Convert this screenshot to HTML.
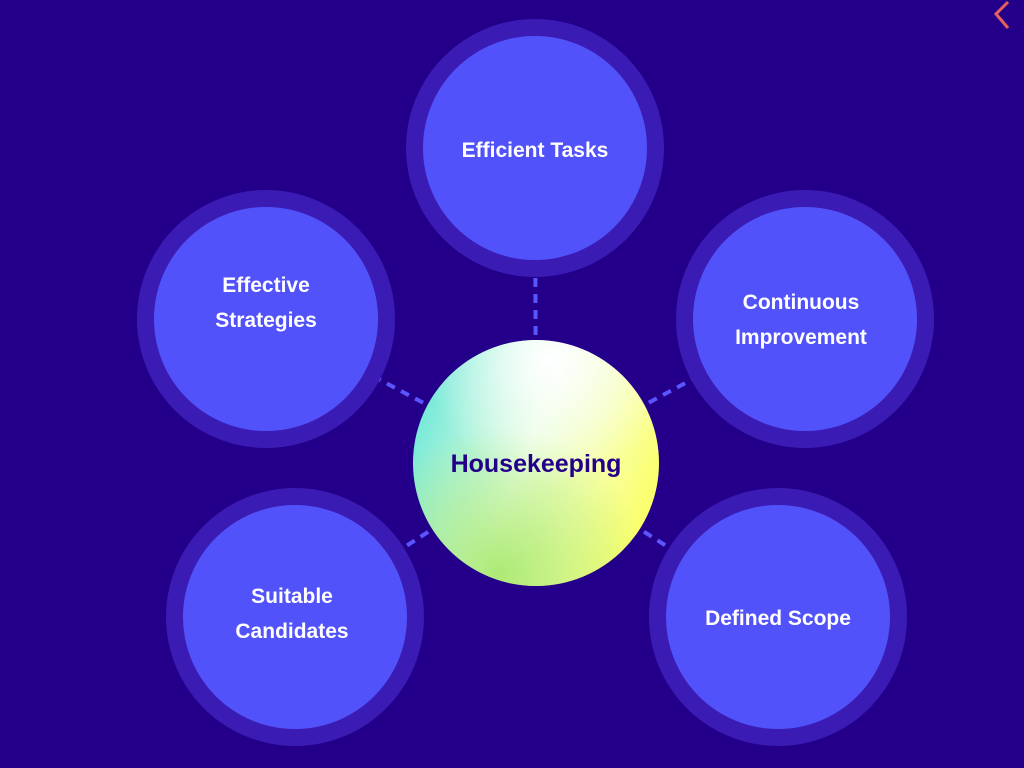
<!DOCTYPE html>
<html><head><style>
html,body{margin:0;padding:0;background:#24008a;width:1024px;height:768px;overflow:hidden}
svg{display:block}
text{font-family:"Liberation Sans",sans-serif;font-weight:bold;fill:#fff;font-size:21px}
</style></head><body>
<svg width="1024" height="768" viewBox="0 0 1024 768">
<defs>
<linearGradient id="g" x1="0" y1="0.3" x2="1" y2="0.7">
<stop offset="0" stop-color="#6fe8d8"/>
<stop offset="0.45" stop-color="#e8fde0"/>
<stop offset="0.75" stop-color="#f8ffa0"/>
<stop offset="1" stop-color="#fbff60"/>
</linearGradient>
<radialGradient id="w" cx="0.55" cy="0.08" r="0.5">
<stop offset="0" stop-color="#ffffff" stop-opacity="1"/>
<stop offset="1" stop-color="#ffffff" stop-opacity="0"/>
</radialGradient>
<radialGradient id="g2" cx="0.35" cy="0.95" r="0.6">
<stop offset="0" stop-color="#a6e86c" stop-opacity="0.9"/>
<stop offset="1" stop-color="#a6e86c" stop-opacity="0"/>
</radialGradient>
</defs>
<rect width="1024" height="768" fill="#24008a"/>
<g stroke="#5a55ff" stroke-width="4" stroke-dasharray="9 7">
<line x1="536" y1="463" x2="535" y2="148"/>
<line x1="536" y1="463" x2="266" y2="319"/>
<line x1="536" y1="463" x2="805" y2="319"/>
<line x1="536" y1="463" x2="295" y2="617"/>
<line x1="536" y1="463" x2="778" y2="617"/>
</g>
<g fill="#3a1cb4">
<circle cx="535" cy="148" r="129"/>
<circle cx="266" cy="319" r="129"/>
<circle cx="805" cy="319" r="129"/>
<circle cx="295" cy="617" r="129"/>
<circle cx="778" cy="617" r="129"/>
</g>
<g fill="#5252fb">
<circle cx="535" cy="148" r="112"/>
<circle cx="266" cy="319" r="112"/>
<circle cx="805" cy="319" r="112"/>
<circle cx="295" cy="617" r="112"/>
<circle cx="778" cy="617" r="112"/>
</g>
<circle cx="536" cy="463" r="123" fill="url(#g)"/>
<circle cx="536" cy="463" r="123" fill="url(#g2)"/>
<circle cx="536" cy="463" r="123" fill="url(#w)"/>
<g text-anchor="middle">
<text x="535" y="157">Efficient Tasks</text>
<text x="266" y="292">Effective</text>
<text x="266" y="327">Strategies</text>
<text x="801" y="309">Continuous</text>
<text x="801" y="344">Improvement</text>
<text x="292" y="603">Suitable</text>
<text x="292" y="638">Candidates</text>
<text x="778" y="625">Defined Scope</text>
<text x="536" y="472" style="fill:#24008a;font-size:25px">Housekeeping</text>
</g>
<polyline points="1008,2 996,14 1008,28" fill="none" stroke="#e8605a" stroke-width="3"/>
</svg>
</body></html>
